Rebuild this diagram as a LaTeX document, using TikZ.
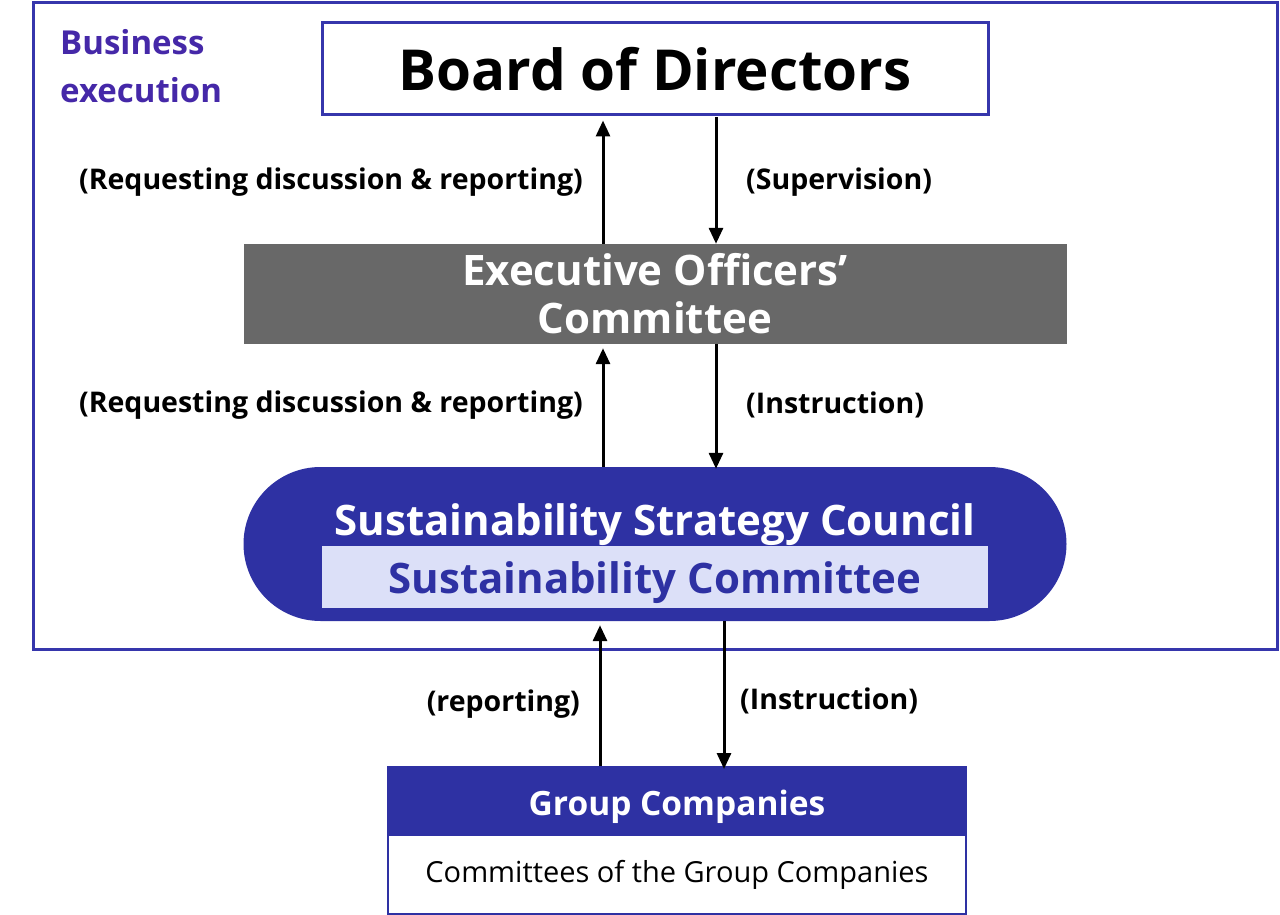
\documentclass[tikz,border=0pt]{standalone}
\usepackage{fontspec}
\setmainfont{Open Sans}
\usetikzlibrary{arrows.meta,positioning}
\definecolor{frameblue}{HTML}{3636AC}
\definecolor{darkblue}{HTML}{2E31A3}
\definecolor{paleblue}{HTML}{DCE0F8}
\definecolor{titleblue}{HTML}{4528A8}
\definecolor{exgray}{HTML}{686868}
\tikzset{
  arr/.style={-{Triangle[length=16pt,width=14pt]}, line width=3pt, black},
  lbl/.style={font=\fontsize{28.5}{32}\selectfont\bfseries, inner sep=0pt},
  big/.style={font=\fontsize{42}{52}\selectfont\bfseries, align=center}
}
\begin{document}
\begin{tikzpicture}[x=1pt, y=-1pt]
\useasboundingbox (0,0) rectangle (1280,915);
% Draw frame
\draw[frameblue, line width=3pt] (33,3) rectangle (1277,649);
\node[anchor=north west, align=left, text=titleblue, inner sep=0pt,
  font=\fontsize{33}{48}\selectfont\bfseries] (bizexec) at (60,29) {Business\\execution};
% Draw boxes
\node[draw=frameblue, line width=3pt, fill=white, minimum width=666pt, minimum height=92pt,
  font=\fontsize{56.5}{60}\selectfont\bfseries] (board) at (655,69) {Board of Directors};
\node[fill=exgray, text=white, minimum width=823pt, minimum height=100pt, big] (exec) at (655,294)
  {Executive Officers'\\[-4pt]Committee};
\node[fill=darkblue, rounded corners=77pt, minimum width=823pt, minimum height=154pt] (council) at (655,544) {};
\node[text=white, big] (councilname) at (655,525) {Sustainability Strategy Council};
\node[fill=paleblue, text=darkblue, minimum width=666pt, minimum height=62pt, big,
  text height=32pt, text depth=0pt] (committee) at (655,577) {Sustainability Committee};
\node[fill=darkblue, draw=darkblue, line width=2pt, text=white, minimum width=578pt, minimum height=66pt,
  text height=30pt, text depth=0pt,
  font=\fontsize{33.5}{38}\selectfont\bfseries] (group) at (677,800) {Group Companies};
\node[draw=darkblue, line width=2pt, fill=white, minimum width=578pt, minimum height=79pt,
  font=\fontsize{29}{34}\selectfont, below=0pt of group] (groupcom) {Committees of the Group Companies};
% Draw arrows
\coordinate (upa) at (603,0);
\coordinate (dna) at (716,0);
\coordinate (upb) at (600,0);
\coordinate (dnb) at (724,0);
\draw[arr] (exec.north -| upa) -- ([yshift=-4pt]board.south -| upa);
\draw[arr] ([yshift=-1pt]board.south -| dna) -- (exec.north -| dna);
\draw[arr] (council.north -| upa) -- ([yshift=-4pt]exec.south -| upa);
\draw[arr] (exec.south -| dna) -- ([yshift=-2pt]council.north -| dna);
\draw[arr] (group.north -| upb) -- ([yshift=-4pt]council.south -| upb);
\draw[arr] (council.south -| dnb) -- ([yshift=-3pt]group.north -| dnb);
% Draw labels
\node[lbl, anchor=east] (reqa) at (583,182) {(Requesting discussion \& reporting)};
\node[lbl, anchor=west] (sup) at (746,182) {(Supervision)};
\node[lbl, anchor=east] (reqb) at (583,405) {(Requesting discussion \& reporting)};
\node[lbl, anchor=west] (insa) at (746,405) {(Instruction)};
\node[lbl, anchor=east] (rep) at (580,704) {(reporting)};
\node[lbl, anchor=west] (insb) at (740,701) {(Instruction)};
\end{tikzpicture}
\end{document}
